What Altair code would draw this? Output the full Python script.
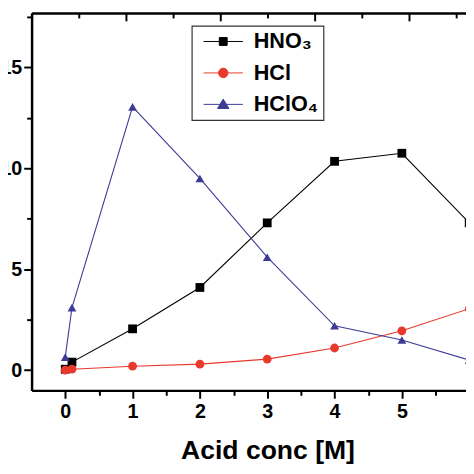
import altair as alt
import pandas as pd

# ---- data ----
conc = [0, 0.1, 1, 2, 3, 4, 5, 6]
hno3 = [0.05, 0.4, 2.05, 4.1, 7.3, 10.35, 10.75, 7.3]
hcl = [0.0, 0.05, 0.2, 0.3, 0.55, 1.1, 1.95, 3.05]
hclo4 = [0.65, 3.1, 13.05, 9.5, 5.6, 2.2, 1.5, 0.5]
acids = ["HNO₃", "HCl", "HClO₄"]
colors = ["#000000", "#E8392C", "#3C3C96"]
x_ticks = [0, 0.5, 1, 1.5, 2, 2.5, 3, 3.5, 4, 4.5, 5, 5.5, 6]
y_ticks = [0, 2.5, 5, 7.5, 10, 12.5, 15, 17.5]
top_ticks = [0, 0.5, 1, 1.5, 2, 2.5, 3, 3.5, 4, 4.5]

rows = []
for name, vals in zip(acids, [hno3, hcl, hclo4]):
    for c, v in zip(conc, vals):
        rows.append({"conc": c, "value": v, "acid": name})
df = pd.DataFrame(rows)

# ---- layout (plot area cropped on the right like the reference) ----
PAD_L = 24
W, H = 466 - PAD_L, 384
PX_PER_X = 68.5
X_MIN = -0.5
X_MAX = X_MIN + W / PX_PER_X
Y_DOM = [-1, 17.7]
TOP_MAX = W / 96.0
FONT = "Liberation Sans"

# legend glyphs: line segment + marker
legend_paths = [
    "M-5,0H5M-1,-1H1V1H-1Z",
    "M-5,0H5M1.2,0A1.2,1.2 0 1,1 -1.2,0A1.2,1.2 0 1,1 1.2,0Z",
    "M-5,0H5M0,-1.35L1.45,1.05H-1.45Z",
]

x_enc = alt.X(
    "conc:Q",
    scale=alt.Scale(domain=[X_MIN, X_MAX], nice=False, zero=False),
    axis=alt.Axis(
        values=x_ticks,
        labelExpr="datum.value % 1 === 0 ? format(datum.value, 'd') : ''",
        tickSize={"condition": {"test": "datum.value % 1 === 0", "value": 8}, "value": 5},
        tickWidth=2,
        tickColor="black",
        domainWidth=2.5,
        domainColor="black",
        labelFontSize=20,
        labelFontWeight="bold",
        labelColor="black",
        labelPadding=4,
        labelFlush=False,
        labelOverlap=False,
        labelBound=False,
        grid=False,
        title="Acid conc [M]",
        titleFontSize=27,
        titleFontWeight="bold",
        titleColor="black",
        titleX=240,
        titleY=69,
        titleAlign="center",
        titleBaseline="alphabetic",
    ),
)
y_enc = alt.Y(
    "value:Q",
    scale=alt.Scale(domain=Y_DOM, nice=False, zero=False),
    axis=alt.Axis(
        values=y_ticks,
        labelExpr="datum.value % 5 === 0 ? format(datum.value, 'd') : ''",
        tickSize={"condition": {"test": "datum.value % 5 === 0", "value": 8}, "value": 5},
        tickWidth=2,
        tickColor="black",
        domainWidth=2.5,
        domainColor="black",
        labelFontSize=20,
        labelFontWeight="bold",
        labelColor="black",
        labelPadding=2,
        labelOverlap=False,
        labelBound=False,
        grid=False,
        title=None,
    ),
)

color_scale = alt.Scale(domain=acids, range=colors)

lines = alt.Chart(df).mark_line(strokeWidth=1.1).encode(
    x=x_enc,
    y=y_enc,
    color=alt.Color("acid:N", scale=color_scale, legend=None),
    detail="acid:N",
)

points = alt.Chart(df).mark_point(filled=True, size=80, opacity=1).encode(
    x=x_enc,
    y=y_enc,
    color=alt.Color("acid:N", scale=color_scale, legend=None),
    shape=alt.Shape(
        "acid:N",
        scale=alt.Scale(domain=acids, range=["square", "circle", "triangle-up"]),
        legend=None,
    ),
)

leg = alt.Legend(
    title=None,
    orient="none",
    legendX=163,
    legendY=13,
    symbolSize=64,
    symbolStrokeWidth=1,
    symbolOpacity=1,
    symbolOffset=16,
    labelOffset=20,
    labelFont=FONT,
    labelFontSize=22,
    labelFontWeight="bold",
    labelColor="black",
    labelLimit=300,
    rowPadding=10,
    padding=5,
    strokeColor="#333333",
)

legend_layer = alt.Chart(df).transform_filter("false").mark_point(
    filled=True, opacity=1, strokeWidth=1
).encode(
    fill=alt.Fill("acid:N", scale=alt.Scale(domain=acids, range=colors), legend=leg),
    stroke=alt.Stroke("acid:N", scale=alt.Scale(domain=acids, range=colors), legend=leg),
    shape=alt.Shape("acid:N", scale=alt.Scale(domain=acids, range=legend_paths), legend=leg),
)

inner = alt.layer(lines, points, legend_layer).resolve_scale(
    color="independent", shape="independent", fill="independent", stroke="independent"
)

top_axis = alt.Chart(df).transform_filter("false").mark_point().encode(
    x=alt.X(
        "conc:Q",
        scale=alt.Scale(domain=[0, TOP_MAX], nice=False, zero=False),
        axis=alt.Axis(
            orient="bottom",
            offset=-H,
            values=top_ticks,
            labels=False,
            tickSize={"condition": {"test": "datum.value % 1 === 0", "value": 8}, "value": 5},
            tickWidth=2,
            tickColor="black",
            domainWidth=2.5,
            domainColor="black",
            grid=False,
            title=None,
        ),
    )
)

chart = (
    alt.layer(inner, top_axis)
    .resolve_scale(x="independent")
    .properties(
        width=W,
        height=H,
        autosize=alt.AutoSizeParams(type="none"),
        padding={"left": PAD_L, "top": 1, "right": 0, "bottom": 81},
    )
    .configure(font=FONT)
    .configure_view(stroke=None)
    .configure_legend(strokeWidth=1.2)
)

chart.save("out.html", embed_options={"renderer": "svg", "actions": False})
